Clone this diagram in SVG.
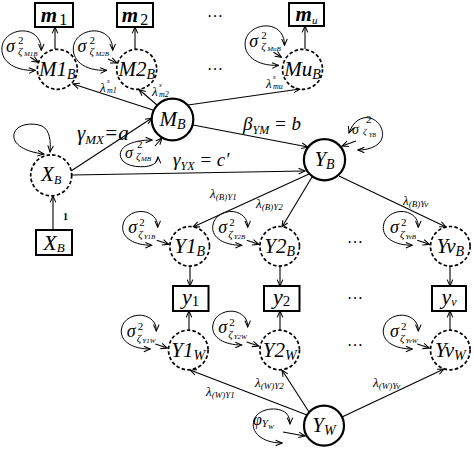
<svg xmlns="http://www.w3.org/2000/svg" width="474" height="451" viewBox="0 0 474 451" font-family="'Liberation Serif', 'Times New Roman', serif">
<style>
.dc{fill:#fff;stroke:#000;stroke-width:1.7;stroke-dasharray:3.5 2.2}
.sc{fill:#fff;stroke:#000;stroke-width:2.2}
.bx{fill:#fff;stroke:#000;stroke-width:2}
.ar{fill:none;stroke:#000;stroke-width:1.1;marker-end:url(#a)}
.lp{fill:none;stroke:#000;stroke-width:1;marker-start:url(#a);marker-end:url(#a)}
text{font-family:"Liberation Serif","Times New Roman",serif;font-style:italic;fill:#000}
.nl{font-size:21px;text-anchor:middle}
.sb{font-size:14px}
.n{font-style:normal}
.dots{font-size:16px;font-style:normal;text-anchor:middle}
.sg{font-size:18px}
.s2{font-size:11px;font-style:normal}
.zt{font-size:11px}
.zs{font-size:7px}
.lm{font-size:13px}
.ls{font-size:9px}
</style>
<defs>
<marker id="a" markerUnits="userSpaceOnUse" markerWidth="8" markerHeight="8" viewBox="0 0 10 10" refX="9" refY="5" orient="auto-start-reverse">
<path d="M1,1.5 L9,5 L1,8.5" fill="none" stroke="#000" stroke-width="1.3"/>
</marker>
<path id="ly" class="lp" d="M -38,-1 C -55,-1 -68,-8 -67,-20 C -66,-32 -52,-37 -43,-34 C -35,-31 -32,-26 -32,-19"/>
<path id="sy" class="ar" d="M -33,-6 L -21,-2"/>
<path id="lm" class="lp" d="M -22,1 C -45,2 -58,-10 -55,-24 C -52,-38 -30,-44 -20,-32 C -17,-28 -16,-24 -16,-19"/>
<path id="sm" class="ar" d="M -27,-12 L -19,-7"/>
</defs>

<g id="connectors">
<line class="ar" x1="156" y1="111" x2="73" y2="84"/>
<line class="ar" x1="157" y1="105" x2="139" y2="89.5"/>
<line class="ar" x1="188" y1="105" x2="300" y2="89"/>
<line class="ar" x1="55" y1="49" x2="55" y2="27"/>
<line class="ar" x1="135" y1="49" x2="135" y2="27"/>
<line class="ar" x1="305" y1="49" x2="305" y2="26"/>
<line class="ar" x1="71" y1="171" x2="152" y2="118"/>
<line class="ar" x1="72" y1="175" x2="305" y2="171"/>
<line class="ar" x1="193" y1="125" x2="308" y2="147"/>
<line class="ar" x1="53" y1="230" x2="53" y2="196"/>
<line class="ar" x1="309" y1="174" x2="193" y2="227"/>
<line class="ar" x1="312" y1="177" x2="282" y2="227"/>
<line class="ar" x1="339" y1="176" x2="446" y2="227"/>
<line class="ar" x1="190" y1="266" x2="190" y2="286"/>
<line class="ar" x1="280" y1="266" x2="280" y2="286"/>
<line class="ar" x1="450" y1="266" x2="450" y2="286"/>
<line class="ar" x1="189" y1="330" x2="189" y2="311"/>
<line class="ar" x1="280" y1="330" x2="280" y2="311"/>
<line class="ar" x1="450" y1="330" x2="450" y2="311"/>
<line class="ar" x1="307" y1="415" x2="190" y2="370"/>
<line class="ar" x1="309" y1="412" x2="282" y2="370"/>
<line class="ar" x1="342" y1="417" x2="444" y2="369"/>
<use href="#lm" x="57.3" y="69.3"/><use href="#sm" x="57.3" y="69.3"/>
<use href="#lm" x="128.7" y="69.3"/><line class="ar" x1="108" y1="59" x2="117" y2="63"/>
<use href="#lm" x="300.5" y="64.3"/><use href="#sm" x="300.5" y="64.3"/>
<path class="lp" d="M 44,154 C 25,152 12,144 14,134 C 16,124 32,122 42,126 C 50,130 51,142 50,152"/>
<path class="lp" d="M 152,140 C 130,140 117,148 121,158 C 125,168 145,168 152,165 C 156,163 158,160 158,157"/>
<line class="ar" x1="155" y1="146" x2="162" y2="138"/>
<path class="lp" d="M 349,133 C 353,121 362,116 370,118 C 381,121 386,134 380,142 C 375,148 366,150 358,150"/>
<line class="ar" x1="356" y1="141" x2="342" y2="146"/>
<use href="#ly" x="189.7" y="246.3"/><use href="#sy" x="189.7" y="246.3"/>
<use href="#ly" x="279.7" y="246.3"/><use href="#sy" x="279.7" y="246.3"/>
<use href="#ly" x="450.3" y="246.3"/><use href="#sy" x="450.3" y="246.3"/>
<use href="#ly" x="188.3" y="350"/><use href="#sy" x="188.3" y="350"/>
<use href="#ly" x="279.7" y="346"/><use href="#sy" x="279.7" y="348"/>
<use href="#ly" x="450.3" y="350"/><use href="#sy" x="450.3" y="350"/>
<path class="lp" d="M 282,443 C 262,443 250,432 254,420 C 258,408 278,406 286,413 C 289,416 290,420 290,424"/>
<line class="ar" x1="283" y1="432" x2="305" y2="436"/>
</g>

<g id="labels">
<text class="lm" x="100" y="92">λ<tspan font-size="7" x="107" y="83">s</tspan><tspan font-size="8" x="107" y="93">m1</tspan></text>
<text class="lm" x="152" y="96">λ<tspan font-size="7" x="159" y="87">s</tspan><tspan font-size="8" x="159" y="97">m2</tspan></text>
<text class="lm" x="266" y="88">λ<tspan font-size="7" x="273" y="79">s</tspan><tspan font-size="8" x="273" y="89">mu</tspan></text>
<text x="77" y="140" font-size="21">γ<tspan font-size="13" dy="4">MX</tspan><tspan dy="-4">=a</tspan></text>
<text x="243" y="130" font-size="19">β<tspan font-size="12" dy="4">YM</tspan><tspan dy="-4"> = b</tspan></text>
<text x="173" y="166" font-size="19">γ<tspan font-size="12" dy="4">YX</tspan><tspan dy="-4"> = c′</tspan></text>
<text x="63" y="220" font-size="10" font-weight="bold" class="n">1</text>
<text class="lm" x="210" y="198">λ<tspan class="ls" dy="2">(B)Y1</tspan></text>
<text class="lm" x="256" y="208">λ<tspan class="ls" dy="2">(B)Y2</tspan></text>
<text class="lm" x="403" y="205">λ<tspan class="ls" dy="2">(B)Yv</tspan></text>
<text class="lm" x="206" y="396">λ<tspan class="ls" dy="2">(W)Y1</tspan></text>
<text class="lm" x="255" y="387">λ<tspan class="ls" dy="2">(W)Y2</tspan></text>
<text class="lm" x="373" y="387">λ<tspan class="ls" dy="2">(W)Yv</tspan></text>
<text class="sg" x="6" y="52">σ<tspan class="s2" x="18" y="44">2</tspan><tspan class="zt" x="18" y="55">ζ</tspan><tspan class="zs" x="24" y="56">M1B</tspan></text>
<text class="sg" x="77.4" y="52">σ<tspan class="s2" x="89.4" y="44">2</tspan><tspan class="zt" x="89.4" y="55">ζ</tspan><tspan class="zs" x="95.4" y="56">M2B</tspan></text>
<text class="sg" x="249.2" y="47">σ<tspan class="s2" x="261.2" y="39">2</tspan><tspan class="zt" x="261.2" y="50">ζ</tspan><tspan class="zs" x="267.2" y="51">MuB</tspan></text>
<text x="125" y="158" font-size="16">σ<tspan class="s2" font-size="9" x="137" y="148">2</tspan><tspan class="zt" x="136" y="160">ζ</tspan><tspan class="zs" x="141" y="161">MB</tspan></text>
<text x="352" y="134" font-size="14">σ<tspan class="s2" font-size="8" x="366" y="123">2</tspan><tspan font-size="9" x="363" y="135">ζ</tspan><tspan font-size="6" x="369" y="137">YB</tspan></text>
<text class="sg" x="128.2" y="233.3">σ<tspan class="s2" x="139.2" y="226.3">2</tspan><tspan class="zt" x="138.2" y="238.3">ζ</tspan><tspan class="zs" x="143.7" y="239.3">Y1B</tspan></text>
<text class="sg" x="218.2" y="233.3">σ<tspan class="s2" x="229.2" y="226.3">2</tspan><tspan class="zt" x="228.2" y="238.3">ζ</tspan><tspan class="zs" x="233.7" y="239.3">Y2B</tspan></text>
<text class="sg" x="390" y="233.3">σ<tspan class="s2" x="401" y="226.3">2</tspan><tspan class="zt" x="400" y="238.3">ζ</tspan><tspan class="zs" x="405.5" y="239.3">YvB</tspan></text>
<text class="sg" x="126.8" y="337">σ<tspan class="s2" x="137.8" y="330">2</tspan><tspan class="zt" x="136.8" y="342">ζ</tspan><tspan class="zs" x="142.3" y="343">Y1W</tspan></text>
<text class="sg" x="218.2" y="333">σ<tspan class="s2" x="229.2" y="326">2</tspan><tspan class="zt" x="228.2" y="338">ζ</tspan><tspan class="zs" x="233.7" y="339">Y2W</tspan></text>
<text class="sg" x="390" y="337">σ<tspan class="s2" x="401" y="330">2</tspan><tspan class="zt" x="400" y="342">ζ</tspan><tspan class="zs" x="405.5" y="343">YvW</tspan></text>
<text x="253" y="425" font-size="16">φ<tspan font-size="11" dy="2">Y</tspan><tspan font-size="7" dy="2">W</tspan></text>
<text class="dots" x="215" y="17">…</text>
<text class="dots" x="215" y="70">…</text>
<text class="dots" x="355" y="243">…</text>
<text class="dots" x="355" y="299">…</text>
<text class="dots" x="355" y="346">…</text>
</g>

<g id="m1"><rect class="bx" x="35" y="3" width="38" height="24"/><text x="54" y="22" text-anchor="middle" font-size="21" font-weight="bold">m<tspan font-size="16" font-weight="normal" font-style="normal" dx="2" dy="3">1</tspan></text></g>
<g id="m2"><rect class="bx" x="117" y="3" width="36" height="24"/><text x="135" y="22" text-anchor="middle" font-size="21" font-weight="bold">m<tspan font-size="16" font-weight="normal" font-style="normal" dx="2" dy="3">2</tspan></text></g>
<g id="mu"><rect class="bx" x="289" y="3" width="35" height="23"/><text x="306.5" y="21" text-anchor="middle" font-size="21" font-weight="bold">m<tspan font-size="11" font-weight="normal" dy="3">u</tspan></text></g>
<g id="M1B"><circle class="dc" cx="57.3" cy="69.3" r="20"/><text class="nl" x="57.3" y="75.5">M1<tspan class="sb" dy="3">B</tspan></text></g>
<g id="M2B"><circle class="dc" cx="136.7" cy="69.3" r="20"/><text class="nl" x="136.7" y="75.5">M2<tspan class="sb" dy="3">B</tspan></text></g>
<g id="MuB"><circle class="dc" cx="302.5" cy="69.3" r="20"/><text class="nl" x="302.5" y="75.5">Mu<tspan class="sb" dy="3">B</tspan></text></g>
<g id="MB"><circle class="sc" cx="172.5" cy="119.5" r="20.8"/><text class="nl" x="172.5" y="125.5">M<tspan class="sb" dy="3">B</tspan></text></g>
<g id="XB"><circle class="dc" cx="51.2" cy="175.3" r="20.5"/><text class="nl" font-size="17" x="51.2" y="181">X<tspan font-size="12" dy="3">B</tspan></text></g>
<g id="XBobs"><rect class="bx" x="36" y="230" width="36" height="25"/><text x="54" y="250" text-anchor="middle" font-size="22">X<tspan font-size="13" dy="2">B</tspan></text></g>
<g id="YB"><circle class="sc" cx="324.5" cy="159.7" r="20.6"/><text class="nl" x="324.5" y="166">Y<tspan class="sb" dy="3">B</tspan></text></g>
<g id="Y1B"><circle class="dc" cx="189.7" cy="246.3" r="19.8"/><text class="nl" x="189.7" y="253">Y1<tspan class="sb" dy="3">B</tspan></text></g>
<g id="Y2B"><circle class="dc" cx="279.7" cy="246.3" r="19.8"/><text class="nl" x="279.7" y="253">Y2<tspan class="sb" dy="3">B</tspan></text></g>
<g id="YvB"><circle class="dc" cx="450.3" cy="246.3" r="19.8"/><text class="nl" x="450.3" y="253">Yv<tspan class="sb" dy="3">B</tspan></text></g>
<g id="y1"><rect class="bx" x="173" y="286" width="35.5" height="25"/><text x="190.7" y="304" text-anchor="middle" font-size="22">y<tspan font-size="15" class="n" dy="2">1</tspan></text></g>
<g id="y2"><rect class="bx" x="264" y="286" width="35.5" height="25"/><text x="281.7" y="304" text-anchor="middle" font-size="22">y<tspan font-size="15" class="n" dy="2">2</tspan></text></g>
<g id="yv"><rect class="bx" x="432" y="286" width="34" height="25"/><text x="449" y="304" text-anchor="middle" font-size="22">y<tspan font-size="12" dy="2">v</tspan></text></g>
<g id="Y1W"><circle class="dc" cx="188.3" cy="350" r="19.8"/><text class="nl" x="188.3" y="356.5">Y1<tspan class="sb" dy="3">W</tspan></text></g>
<g id="Y2W"><circle class="dc" cx="279.7" cy="350" r="19.8"/><text class="nl" x="279.7" y="356.5">Y2<tspan class="sb" dy="3">W</tspan></text></g>
<g id="YvW"><circle class="dc" cx="450.3" cy="350" r="19.8"/><text class="nl" x="450.3" y="356.5">Yv<tspan class="sb" dy="3">W</tspan></text></g>
<g id="YW"><circle class="sc" cx="324" cy="425.7" r="20"/><text class="nl" x="324" y="432">Y<tspan class="sb" dy="3">W</tspan></text></g>
</svg>
